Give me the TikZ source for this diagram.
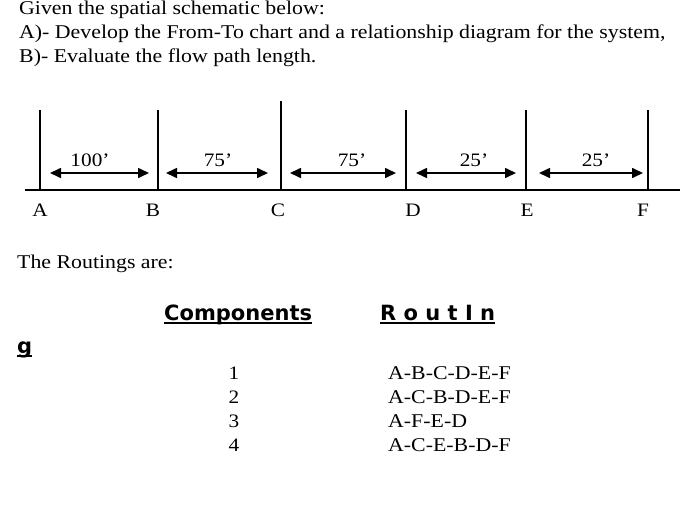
\documentclass[tikz,border=0pt]{standalone}
\usepackage{fontspec}
\setmainfont{Liberation Serif}[FakeStretch=1.12]
\newfontfamily\headfont{DejaVu Sans}
\usetikzlibrary{positioning}
\usetikzlibrary{arrows.meta}

\tikzset{
  txt/.style={anchor=base west, inner sep=0pt, font=\fontsize{19.5}{22}\selectfont},
  lbl/.style={anchor=base, inner sep=0pt, font=\fontsize{19}{22}\selectfont},
  hdr/.style={anchor=base west, inner sep=0pt, font=\headfont\bfseries\fontsize{21}{24}\selectfont},
  wall/.style={line width=1.3pt},
  dimline/.style={line width=1.6pt, {Triangle[length=11pt,width=10pt]}-{Triangle[length=11pt,width=10pt]}},
}

\begin{document}
\begin{tikzpicture}[x=1pt,y=-1pt]
\useasboundingbox (0,0) rectangle (700,511);

% question text
\node[txt] (q1) at (19,15) {Given the spatial schematic below:};
\node[txt] (q2) at (19,39) {A)- Develop the From-To chart and a relationship diagram for the system,};
\node[txt] (q3) at (19,63) {B)- Evaluate the flow path length.};

% floor line and walls
\coordinate (left) at (25,190);
\coordinate (right) at (680,190);
\draw[line width=2.8pt] (left) -- (right);

\coordinate (A) at (40,190);   \coordinate (Atop) at (40,110);
\coordinate (B) at (158,190);  \coordinate (Btop) at (158,110);
\coordinate (C) at (281,190);  \coordinate (Ctop) at (281,101);
\coordinate (D) at (406,190);  \coordinate (Dtop) at (406,110);
\coordinate (E) at (526,190);  \coordinate (Etop) at (526,110);
\coordinate (F) at (648,190);  \coordinate (Ftop) at (648,110);

\draw[wall] (A) -- (Atop);
\draw[wall] (B) -- (Btop);
\draw[wall] (C) -- (Ctop);
\draw[wall] (D) -- (Dtop);
\draw[wall] (E) -- (Etop);
\draw[wall] (F) -- (Ftop);

% distances
\coordinate (ab1) at (50,173);  \coordinate (ab2) at (149,173);
\coordinate (bc1) at (166,173); \coordinate (bc2) at (268,173);
\coordinate (cd1) at (290,173); \coordinate (cd2) at (396,173);
\coordinate (de1) at (416,173); \coordinate (de2) at (516,173);
\coordinate (ef1) at (539,173); \coordinate (ef2) at (643,173);

\draw[dimline] (ab1) -- (ab2);
\draw[dimline] (bc1) -- (bc2);
\draw[dimline] (cd1) -- (cd2);
\draw[dimline] (de1) -- (de2);
\draw[dimline] (ef1) -- (ef2);

\node[lbl] (dab) at (90,166) {100'};
\node[lbl] (dbc) at (218,166) {75'};
\node[lbl] (dcd) at (352,166) {75'};
\node[lbl] (dde) at (474,166) {25'};
\node[lbl] (def) at (596,166) {25'};

% station letters
\node[lbl] (labA) at (40,216) {A};
\node[lbl] (labB) at (153,216) {B};
\node[lbl] (labC) at (278,216) {C};
\node[lbl] (labD) at (413,216) {D};
\node[lbl] (labE) at (527,216) {E};
\node[lbl] (labF) at (643,216) {F};

% routings
\node[txt] (rt) at (17,268) {The Routings are:};

\node[hdr] (comp) at (164,320) {Components};
\node[hdr] (rout) at (380,320) {R o u t I n};
\node[hdr] (rg) at (17,353) {g};
\draw[line width=2pt] ([yshift=-3pt]comp.base west) -- ([yshift=-3pt]comp.base east);
\draw[line width=2pt] ([yshift=-3pt]rout.base west) -- ([yshift=-3pt]rout.base east);
\draw[line width=2pt] ([yshift=-3pt]rg.base west) -- ([yshift=-3pt]rg.base east);

\node[lbl] (n1) at (234,379) {1};
\node[lbl] (n2) at (234,403) {2};
\node[lbl] (n3) at (234,427) {3};
\node[lbl] (n4) at (234,451) {4};

\node[txt] (r1) at (388,379) {A-B-C-D-E-F};
\node[txt] (r2) at (388,403) {A-C-B-D-E-F};
\node[txt] (r3) at (388,427) {A-F-E-D};
\node[txt] (r4) at (388,451) {A-C-E-B-D-F};

\end{tikzpicture}
\end{document}
